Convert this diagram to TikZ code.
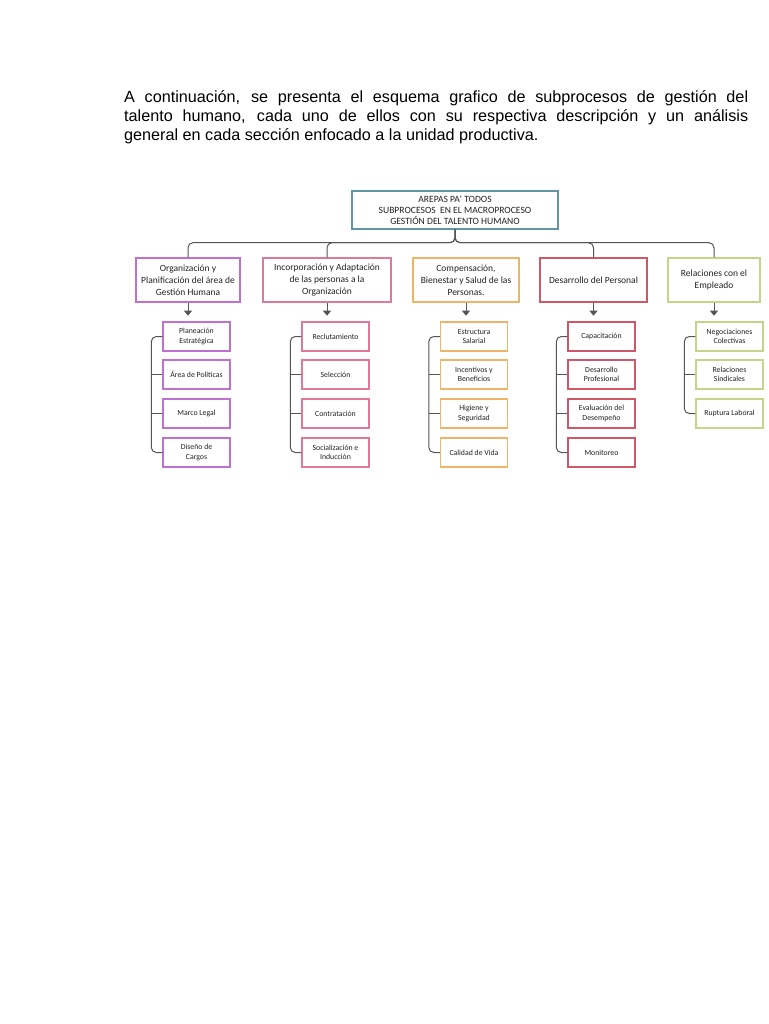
\documentclass[tikz,border=0pt]{standalone}
\usepackage{fontspec}
\setmainfont{Liberation Sans}
\newfontfamily\diag{Carlito}
\usetikzlibrary{arrows.meta}
\definecolor{cRoot}{HTML}{5F95A5}
\definecolor{cPur}{HTML}{C070D0}
\definecolor{cPink}{HTML}{E07898}
\definecolor{cOra}{HTML}{F0B468}
\definecolor{cRed}{HTML}{CF5868}
\definecolor{cOli}{HTML}{C4D488}
\definecolor{cLine}{HTML}{555555}
\definecolor{cTxt}{HTML}{222222}
\tikzset{
  box/.style={draw, line width=1.4pt, fill=white, inner sep=1pt, align=center, text=cTxt},
  rootbox/.style={box, draw=cRoot, minimum width=206pt, minimum height=38pt, font=\diag\fontsize{9.6}{11}\selectfont},
  catbox/.style={box, minimum height=44pt, font=\diag\fontsize{9.5}{12}\selectfont},
  subbox/.style={box, minimum width=67pt, minimum height=29pt, font=\diag\fontsize{7.8}{9.5}\selectfont},
  conn/.style={draw=cLine, line width=1pt, rounded corners=5pt},
  arr/.style={draw=cLine, line width=1pt, -{Triangle[width=8pt,length=5pt]}},
}
\begin{document}
\begin{tikzpicture}[x=1pt,y=-1pt]
\useasboundingbox[fill=white] (0,0) rectangle (768,1024);

\node[anchor=north west, text width=624pt, align=justify, inner sep=0pt, font=\fontsize{16.2}{19}\selectfont, text=black] (intro) at (124,90)
{A continuación, se presenta el esquema grafico de subprocesos de gestión del\linebreak
talento humano, cada uno de ellos con su respectiva descripción y un análisis\linebreak
general en cada sección enfocado a la unidad productiva.};

% root
\node[rootbox] (root) at (455,210) {AREPAS PA' TODOS\\SUBPROCESOS \ EN EL MACROPROCESO\\GESTIÓN DEL TALENTO HUMANO};

% categories
\node[catbox, draw=cPur, minimum width=104pt] (c1) at (188,280) {Organización y\\Planificación del área de\\Gestión Humana};
\node[catbox, draw=cPink, minimum width=128pt] (c2) at (327,280) {Incorporación y Adaptación\\de las personas a la\\Organización};
\node[catbox, draw=cOra, minimum width=106pt] (c3) at (466,280) {Compensación,\\Bienestar y Salud de las\\Personas.};
\node[catbox, draw=cRed, minimum width=107pt] (c4) at (593.5,280) {Desarrollo del Personal};
\node[catbox, draw=cOli, minimum width=92pt] (c5) at (714,280) {Relaciones con el\\Empleado};

% tree connectors
\draw[conn] (root.south) -- ++(0,13) -| (c1.north);
\draw[conn] (root.south) -- ++(0,13) -| (c2.north);
\draw[conn] (root.south) -- ++(0,13) -| (c4.north);
\draw[conn] (root.south) -- ++(0,13) -| (c5.north);

% arrows
\foreach \c in {c1,c2,c3,c4,c5}{
  \draw[arr] (\c.south) -- ++(0,13);
}

% sub boxes
\def\rA{336.5}\def\rB{374.5}\def\rC{413.5}\def\rD{452.5}
\node[subbox, draw=cPur] (s11) at (196.5,\rA) {Planeación\\Estratégica};
\node[subbox, draw=cPur] (s12) at (196.5,\rB) {Área de Políticas};
\node[subbox, draw=cPur] (s13) at (196.5,\rC) {Marco Legal};
\node[subbox, draw=cPur] (s14) at (196.5,\rD) {Diseño de\\Cargos};

\node[subbox, draw=cPink] (s21) at (335.5,\rA) {Reclutamiento};
\node[subbox, draw=cPink] (s22) at (335.5,\rB) {Selección};
\node[subbox, draw=cPink] (s23) at (335.5,\rC) {Contratación};
\node[subbox, draw=cPink] (s24) at (335.5,\rD) {Socialización e\\Inducción};

\node[subbox, draw=cOra] (s31) at (474,\rA) {Estructura\\Salarial};
\node[subbox, draw=cOra] (s32) at (474,\rB) {Incentivos y\\Beneficios};
\node[subbox, draw=cOra] (s33) at (474,\rC) {Higiene y\\Seguridad};
\node[subbox, draw=cOra] (s34) at (474,\rD) {Calidad de Vida};

\node[subbox, draw=cRed] (s41) at (601.5,\rA) {Capacitación};
\node[subbox, draw=cRed] (s42) at (601.5,\rB) {Desarrollo\\Profesional};
\node[subbox, draw=cRed] (s43) at (601.5,\rC) {Evaluación del\\Desempeño};
\node[subbox, draw=cRed] (s44) at (601.5,\rD) {Monitoreo};

\node[subbox, draw=cOli] (s51) at (729.5,\rA) {Negociaciones\\Colectivas};
\node[subbox, draw=cOli] (s52) at (729.5,\rB) {Relaciones\\Sindicales};
\node[subbox, draw=cOli] (s53) at (729.5,\rC) {Ruptura Laboral};

% brackets
\foreach \k in {1,2,3,4}{
  \draw[conn] (s\k1.west) -- ++(-11,0) |- (s\k4.west);
  \draw[conn] (s\k2.west) -- ++(-11,0);
  \draw[conn] (s\k3.west) -- ++(-11,0);
}
\draw[conn] (s51.west) -- ++(-11,0) |- (s53.west);
\draw[conn] (s52.west) -- ++(-11,0);
\end{tikzpicture}
\end{document}
